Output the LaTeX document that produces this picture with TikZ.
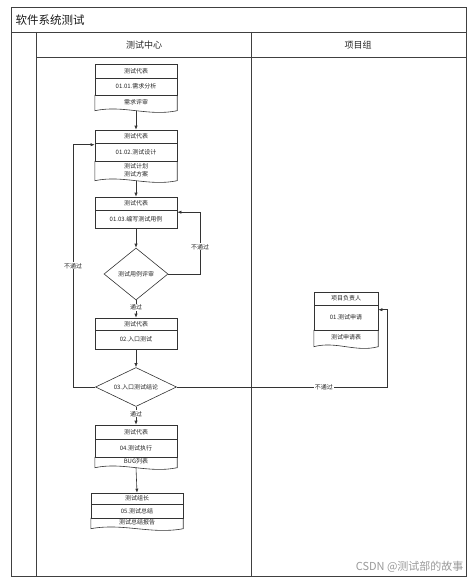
\documentclass[tikz,border=0pt]{standalone}
\usepackage{fontspec}
\setmainfont{Liberation Sans}
\newfontfamily\cjk{Noto Sans CJK SC}
\usetikzlibrary{shapes.geometric,arrows.meta}
\tikzset{
  ln/.style={draw=black!80, line width=0.6pt},
  frameline/.style={draw=black!75, line width=0.8pt},
  row/.style={ln, rectangle, inner sep=0pt, minimum width=82pt, font=\cjk\fontsize{6}{7.5}\selectfont, text=black!85, align=center},
  wrow/.style={rectangle, inner sep=0pt, minimum width=82pt, font=\cjk\fontsize{6}{7.5}\selectfont, text=black!85, align=center},
  dec/.style={ln, diamond, inner sep=0pt, font=\cjk\fontsize{6}{7.5}\selectfont, text=black!85},
  arr/.style={ln, -{Latex[length=4pt,width=3.2pt]}},
  lbl/.style={fill=white, inner sep=0.8pt, font=\cjk\fontsize{6}{7.5}\selectfont, text=black!85},
  hdr/.style={font=\cjk\fontsize{9}{11}\selectfont, text=black!85}
}
% wave hangs 1.5pt below the node's south edge
\newcommand\wavebottom[2]{\draw[ln] (#1.north west) -- ([yshift=-1.5pt]#1.south west) .. controls +(#2*0.35,-6) and +(-#2*0.35,6) .. ([yshift=-1.5pt]#1.south east) -- (#1.north east);}
\begin{document}
\begin{tikzpicture}[x=1pt,y=-1pt]
\useasboundingbox (0,0) rectangle (474,583);
% frame
\draw[frameline] (11,7) rectangle (466,576);
\draw[frameline] (11,32) -- (466,32);
\draw[frameline] (36,57) -- (466,57);
\draw[frameline] (36,32) -- (36,576);
\draw[frameline] (251,32) -- (251,576);
\node[anchor=west, font=\cjk\fontsize{11.5}{13}\selectfont, text=black!90] (title) at (12,20) {软件系统测试};
\node[hdr] (h1) at (144,45) {测试中心};
\node[hdr] (h2) at (358,45) {项目组};

% doc 1
\node[row, minimum height=14pt] (d1a) at (136,71) {测试代表};
\node[row, minimum height=17pt] (d1b) at (136,86.5) {01.01.需求分析};
\node[wrow, minimum height=14pt] (d1c) at (136,102) {需求评审};
\wavebottom{d1c}{82}

% doc 2
\node[row, minimum height=13pt] (d2a) at (136,136.5) {测试代表};
\node[row, minimum height=18pt] (d2b) at (136,152) {01.02.测试设计};
\node[wrow, minimum height=18pt] (d2c) at (136,170) {测试计划\\测试方案};
\wavebottom{d2c}{82}

% box 3
\node[row, minimum height=13pt] (d3a) at (136,203.5) {测试代表};
\node[row, minimum height=18pt] (d3b) at (136,219) {01.03.编写测试用例};

% diamond 1
\node[dec, minimum width=64pt, minimum height=52pt, aspect=1.23] (q1) at (136,274) {测试用例评审};

% box 4
\node[row, minimum height=12pt] (d4a) at (136,324) {测试代表};
\node[row, minimum height=19pt] (d4b) at (136,339.5) {02.入口测试};

% diamond 2
\node[dec, minimum width=81pt, minimum height=39pt, aspect=2.08] (q2) at (136,387) {03.入口测试结论};

% doc 5 (execution)
\node[row, minimum height=14pt] (d5a) at (136,432) {测试代表};
\node[row, minimum height=18pt] (d5b) at (136,448) {04.测试执行};
\node[wrow, minimum height=9pt] (d5c) at (136,461.5) {BUG列表};
\wavebottom{d5c}{82}

% doc 6 (summary)
\node[row, minimum width=92pt, minimum height=11pt] (d6a) at (137,498.5) {测试组长};
\node[row, minimum width=92pt, minimum height=14pt] (d6b) at (137,511) {05.测试总结};
\node[wrow, minimum width=92pt, minimum height=9pt] (d6c) at (137,522.5) {测试总结报告};
\wavebottom{d6c}{92}

% project doc
\node[row, minimum width=64pt, minimum height=13pt] (p1) at (346,298.5) {项目负责人};
\node[row, minimum width=64pt, minimum height=25pt] (p2) at (346,317.5) {01.测试申请};
\node[wrow, minimum width=64pt, minimum height=15pt] (p3) at (346,337.5) {测试申请表};
\wavebottom{p3}{64}

% connectors
\draw[arr] ([yshift=-1.5pt]d1c.south) -- (d2a.north);
\draw[arr] ([yshift=-1.5pt]d2c.south) -- (d3a.north);
\draw[arr] (d3b.south) -- (q1.north);
\draw[arr] (q1.south) -- node[lbl, pos=0.4] (l1) {通过} (d4a.north);
\draw[arr] (d4b.south) -- (q2.north);
\draw[arr] (q2.south) -- node[lbl, pos=0.4] (l2) {通过} (d5a.north);
\draw[arr] ([yshift=-1.5pt]d5c.south) -- (d6a.north);

\coordinate (c1) at (200,274);
\draw[arr] (q1.east) -- (c1) |- node[lbl, pos=0.22] (l3) {不通过} ([yshift=-2.5pt]d3b.north east);

\coordinate (c2) at (73,387);
\draw[arr] (q2.west) -- (c2) |- node[lbl, pos=0.25] (l4) {不通过} ([yshift=-2pt]d2b.north west);

\coordinate (c3) at (387,387);
\draw[arr] (q2.east) -- node[lbl, pos=0.7] (l5) {不通过} (c3) |- ([yshift=-5pt]p2.north east);

% watermark
\node[anchor=east, font=\cjk\fontsize{11}{13}\selectfont, text=black!40] (wm) at (467,567) {CSDN @测试部的故事};
\end{tikzpicture}
\end{document}
